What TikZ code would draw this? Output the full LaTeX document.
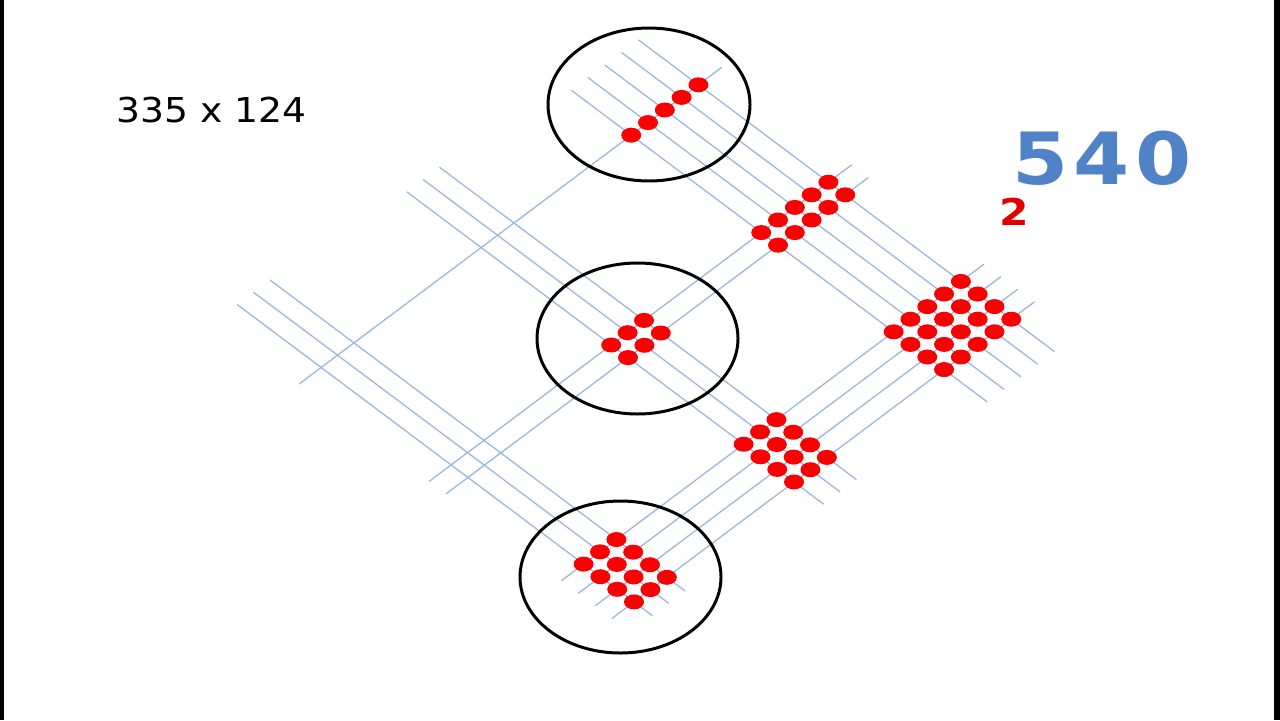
\documentclass[tikz,border=0pt]{standalone}
\usepackage{fontspec}
\setsansfont{DejaVu Sans}
\definecolor{rodblue}{RGB}{155,185,222}
\definecolor{beadred}{RGB}{250,0,0}
\definecolor{sumblue}{RGB}{80,130,200}
\definecolor{carryred}{RGB}{225,0,0}

\begin{document}
\begin{tikzpicture}[
    x=0.02cm, y=-0.02cm,
    rod/.style={draw=rodblue, line width=0.75pt},
    bead/.style={fill=beadred},
    ring/.style={draw=black, line width=1.7pt},
    numtext/.style={inner sep=0pt, font=\sffamily}
]
\useasboundingbox (0,0) rectangle (1280,720);
\fill[white] (0,0) rectangle (1280,720);
\fill[black] (0,0) rectangle (4,720);
\fill[black] (1274,0) rectangle (1280,720);

% lattice: x runs down-right, y runs up-right
\begin{scope}[shift={(636,339)}, x={(0.016cm,-0.012cm)}, y={(0.016cm,0.012cm)}]
% 124: one, two and four rods going up
\foreach \s in {-173,-10.5,10.5,155,176,197,218}
  \draw[rod] (\s,-248) -- (\s,280);
% 335: three, three and five rods going down
\foreach \t in {-220.5,-200,-179.5}
  \draw[rod] (-278,\t) -- (241,\t);
\foreach \t in {-20.5,0,20.5}
  \draw[rod] (-266,\t) -- (255,\t);
\foreach \t in {167,188,209,230,251}
  \draw[rod] (-248,\t) -- (272,\t);

% beads where the rods cross
\foreach \s in {-173} \foreach \t in {167,188,209,230,251}
  \fill[bead] (\s,\t) ellipse [x radius=0.2cm, y radius=0.15cm];
\foreach \s in {-10.5,10.5} \foreach \t in {-20.5,0,20.5}
  \fill[bead] (\s,\t) ellipse [x radius=0.2cm, y radius=0.15cm];
\foreach \s in {-10.5,10.5} \foreach \t in {167,188,209,230,251}
  \fill[bead] (\s,\t) ellipse [x radius=0.2cm, y radius=0.15cm];
\foreach \s in {155,176,197,218} \foreach \t in {-220.5,-200,-179.5}
  \fill[bead] (\s,\t) ellipse [x radius=0.2cm, y radius=0.15cm];
\foreach \s in {155,176,197,218} \foreach \t in {-20.5,0,20.5}
  \fill[bead] (\s,\t) ellipse [x radius=0.2cm, y radius=0.15cm];
\foreach \s in {155,176,197,218} \foreach \t in {167,188,209,230,251}
  \fill[bead] (\s,\t) ellipse [x radius=0.2cm, y radius=0.15cm];
\end{scope}

% hundreds column
\draw[ring] (649,104.5) ellipse (101 and 76.5);
\draw[ring] (637.5,338.5) ellipse (100.5 and 75.5);
\draw[ring] (620.5,577) ellipse (100.5 and 76);

\node[numtext, text=black] (factors) at (211.5,110.5)
  {\fontsize{19.5}{20}\selectfont\scalebox{1.1}[1]{335 x 124}};
\node[numtext, text=sumblue] (partial) at (1102,158.5)
  {\fontsize{41}{42}\selectfont\bfseries\scalebox{1.12}[1]{5\kern2.8pt4\kern2.8pt0}};
\node[numtext, text=carryred] (carry) at (1014,212)
  {\fontsize{21}{21}\selectfont\bfseries\scalebox{1.15}[1]{2}};
\end{tikzpicture}
\end{document}
